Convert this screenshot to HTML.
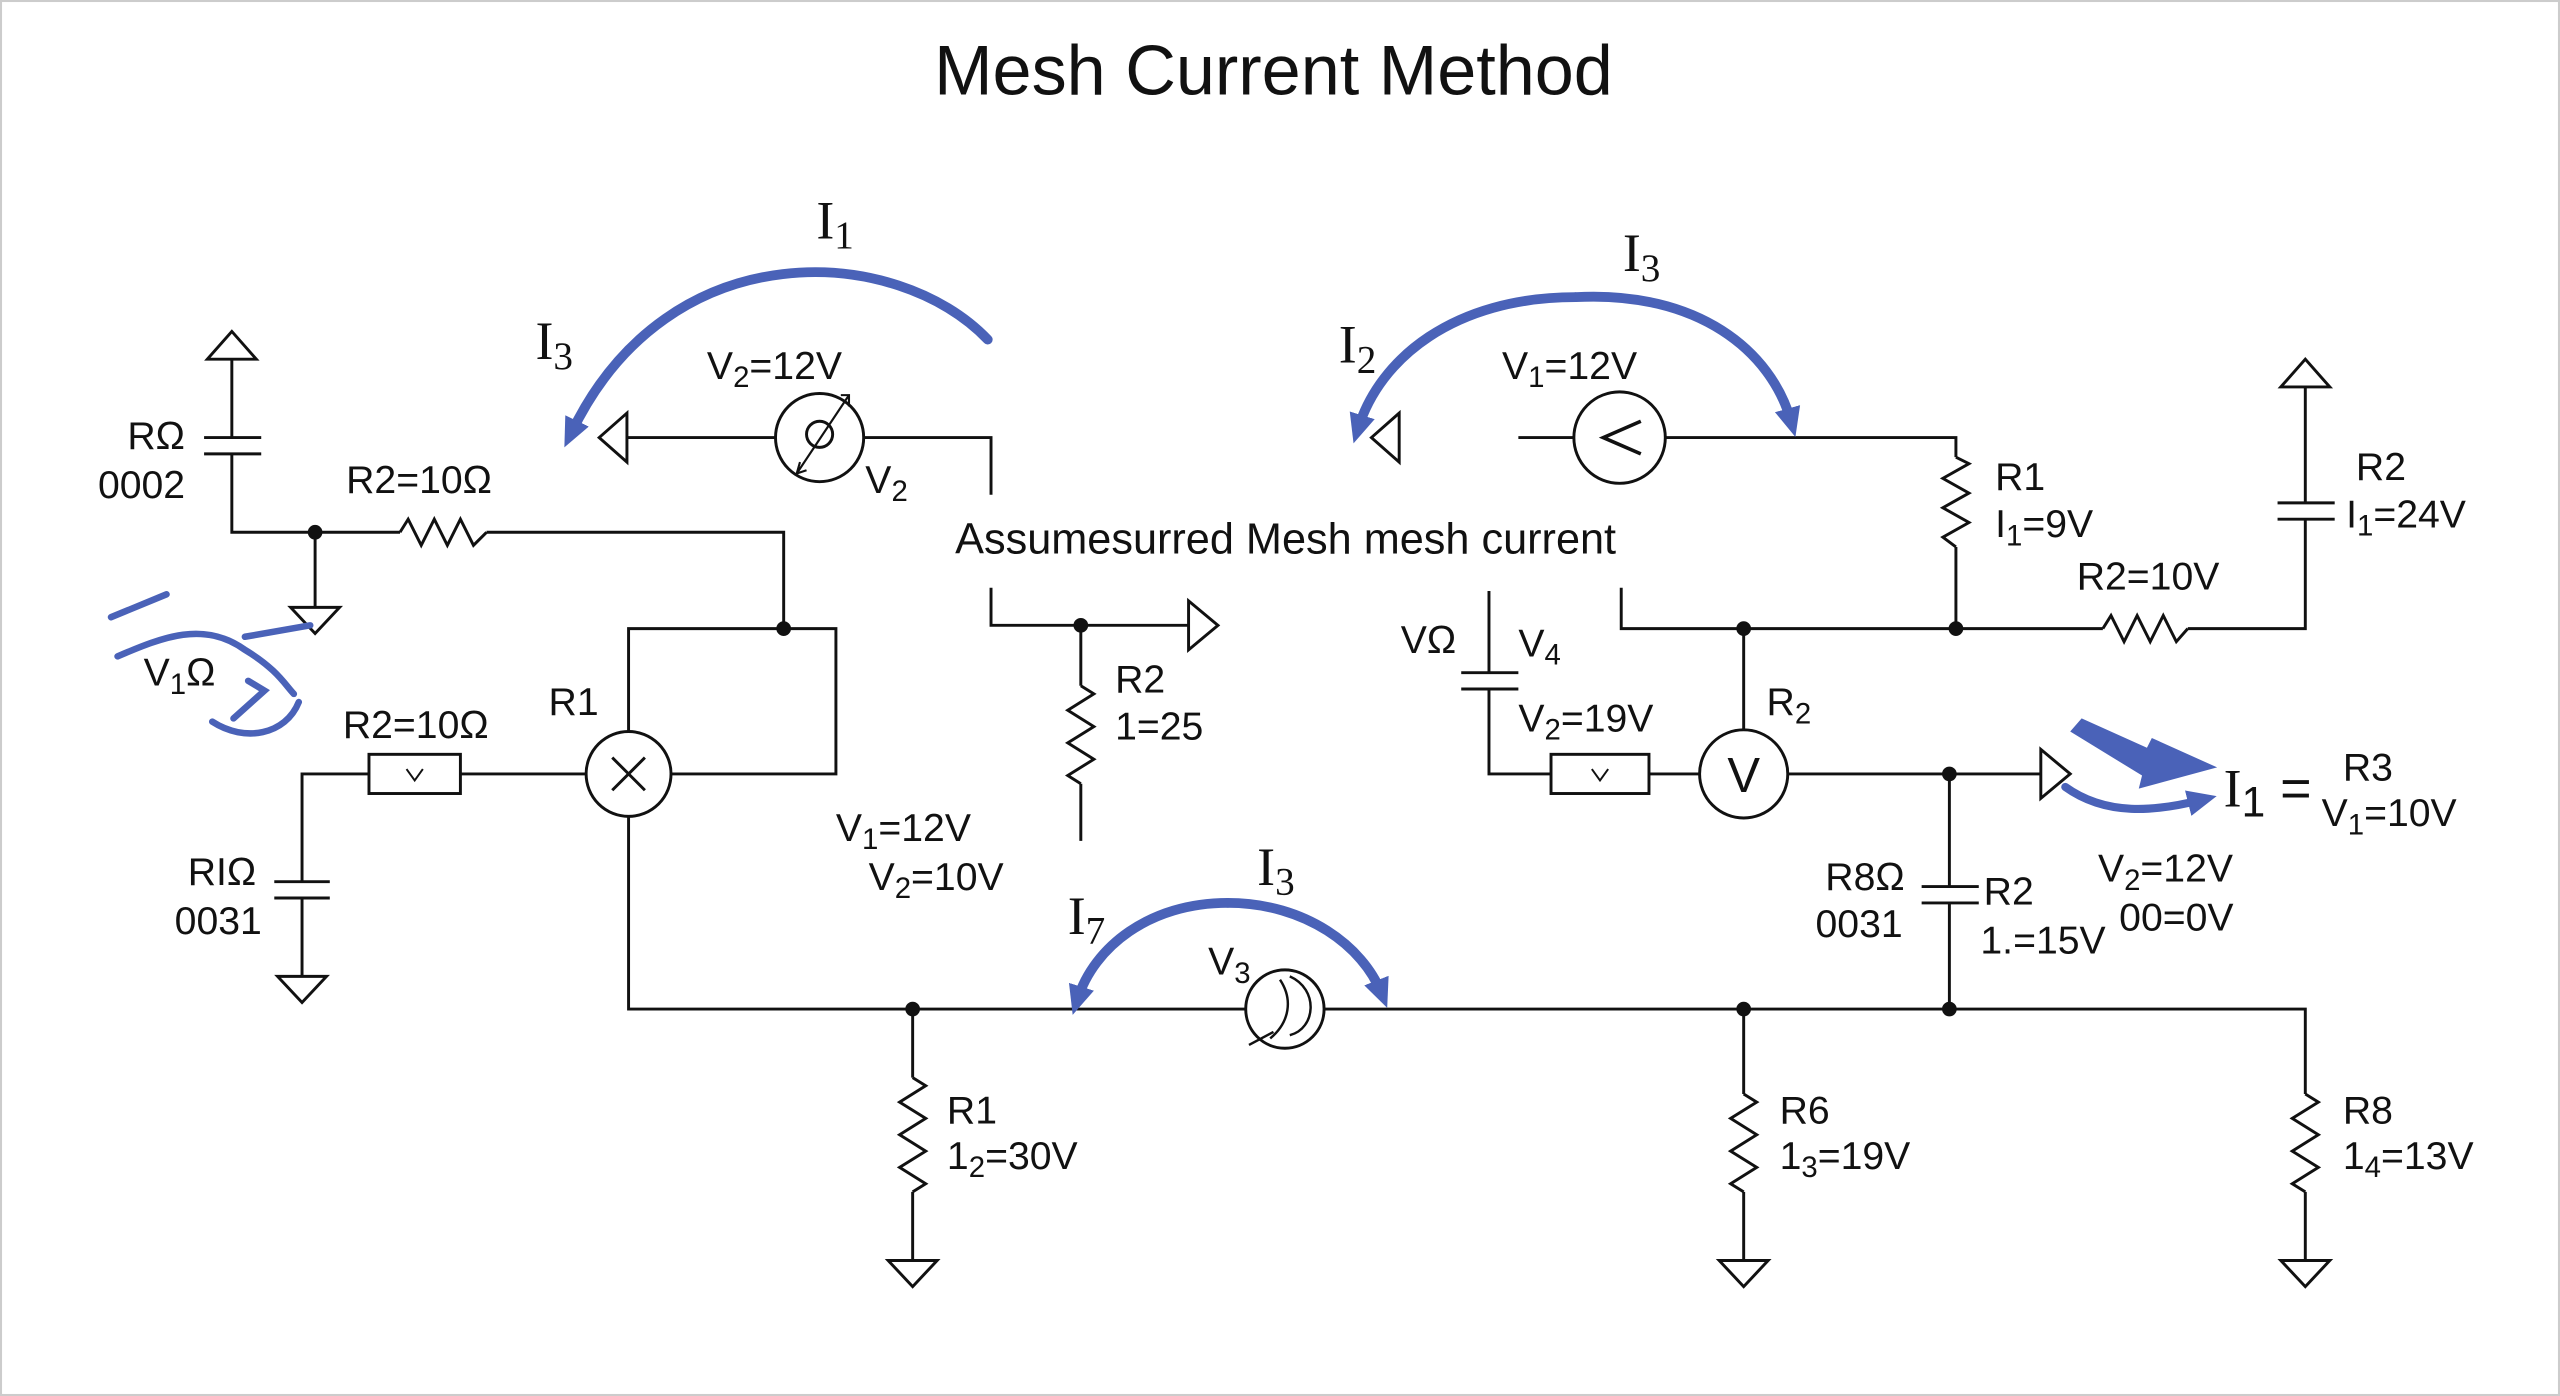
<!DOCTYPE html>
<html><head><meta charset="utf-8"><style>
html,body{margin:0;padding:0;background:#fff;}
svg{display:block;}
text{font-family:"Liberation Sans",sans-serif;fill:#111;}
.s{font-family:"Liberation Serif",serif;}
</style></head><body>
<svg width="2560" height="1396" viewBox="0 0 1568 855" preserveAspectRatio="none" xmlns="http://www.w3.org/2000/svg">
<rect x="0.5" y="0.5" width="1567" height="854" fill="#fff" stroke="#ccc" stroke-width="1.5"/>
<text x="780" y="58" font-size="43" text-anchor="middle">Mesh Current Method</text>
<defs>
<marker id="ah" markerWidth="20" markerHeight="20" refX="8" refY="10" orient="auto" markerUnits="userSpaceOnUse"><path d="M0,2 L18,10 L0,18 Z" fill="#4a62b8"/></marker>
</defs>
<g fill="none" stroke="#111" stroke-width="1.8">
<polygon points="127,220 157,220 142,203" fill="#fff"/>
<path d="M142,220 V268 M125,268 H160 M125,278 H160 M142,278 V326 H245 M298,326 H480 V385"/>
<polyline points="245,326 250,318 258,334 266,318 274,334 282,318 290,334 298,326"/>
<path d="M193,326 V372"/>
<polygon points="178,372 208,372 193,388" fill="#fff"/>
<path d="M385,448 V385 H512 V474 H411"/>
<circle cx="385" cy="474" r="26" fill="#fff"/>
<path d="M375,464 L395,484 M395,464 L375,484"/>
<path d="M185,540 V474 H226 M282,474 H359"/>
<rect x="226" y="462" width="56" height="24" fill="#fff"/>
<path d="M249,471 L254,478 L259,471" stroke-width="1.2"/>
<path d="M168,540 H202 M168,550 H202 M185,550 V598"/>
<polygon points="170,598 200,598 185,614" fill="#fff"/>
<path d="M385,500 V618 H763 M811,618 H1412 V670"/>
<path d="M559,618 V660 M559,730 V772"/>
<polyline points="559,660 567,665 551,675 567,685 551,695 567,705 551,715 567,725 559,730"/>
<polygon points="544,772 574,772 559,788" fill="#fff"/>
<path d="M1068,618 V670 M1068,730 V772"/>
<polyline points="1068,670 1076,675 1060,685 1076,695 1060,705 1076,715 1060,725 1068,730"/>
<polygon points="1053,772 1083,772 1068,788" fill="#fff"/>
<polyline points="1412,670 1420,675 1404,685 1420,695 1404,705 1420,715 1404,725 1412,730"/>
<path d="M1412,730 V772"/>
<polygon points="1397,772 1427,772 1412,788" fill="#fff"/>
<circle cx="787" cy="618" r="24" fill="#fff"/>
<path d="M790,598 C808,606 806,630 790,634 M784,600 C792,612 790,626 778,636 M765,640 L780,632" stroke-width="1.5"/>
<polygon points="384,253 384,283 367,268" fill="#fff"/>
<path d="M384,268 H475 M529,268 H607 V303"/>
<circle cx="502" cy="268" r="27" fill="#fff"/>
<circle cx="502" cy="266" r="8"/>
<path d="M488,290 L520,242 M515,242 L520,242 L520,249 M490,283 L488,290 L494,288" stroke-width="1.3"/>
<path d="M607,360 V383 H728 M662,383 V420 M662,480 V515"/>
<polygon points="728,368 728,398 746,383" fill="#fff"/>
<polyline points="662,420 670,425 654,435 670,445 654,455 670,465 654,475 662,480"/>
<polygon points="857,253 857,283 840,268" fill="#fff"/>
<path d="M930,268 H964 M1020,268 H1198 V280 M1198,335 V385"/>
<circle cx="992" cy="268" r="28" fill="#fff"/>
<path d="M1005,258 L982,268 L1005,278" stroke-width="2.2"/>
<polyline points="1198,280 1206,284 1190,293 1206,302 1190,311 1206,320 1190,329 1198,335"/>
<path d="M993,360 V385 H1288 M1340,385 H1412 V318 M1395,318 H1430 M1395,308 H1430 M1412,308 V237"/>
<polyline points="1288,385 1293,377 1301,393 1309,377 1317,393 1325,377 1333,393 1340,385"/>
<polygon points="1397,237 1427,237 1412,220" fill="#fff"/>
<path d="M1068,385 V447 M1095,474 H1250 M1194,474 V543 M1177,543 H1212 M1177,553 H1212 M1194,553 V618"/>
<circle cx="1068" cy="474" r="27" fill="#fff"/>
<polygon points="1250,459 1250,489 1268,474" fill="#fff"/>
<path d="M912,362 V412 M895,412 H930 M895,422 H930 M912,422 V474 H950 M1010,474 H1041"/>
<rect x="950" y="462" width="60" height="24" fill="#fff"/>
<path d="M975,471 L980,478 L985,471" stroke-width="1.2"/>
</g>
<g fill="#111">
<circle cx="193" cy="326" r="4.5"/><circle cx="480" cy="385" r="4.5"/>
<circle cx="662" cy="383" r="4.5"/><circle cx="1068" cy="385" r="4.5"/><circle cx="1198" cy="385" r="4.5"/>
<circle cx="1194" cy="474" r="4.5"/>
<circle cx="559" cy="618" r="4.5"/><circle cx="1068" cy="618" r="4.5"/><circle cx="1194" cy="618" r="4.5"/>
</g>
<text x="1068" y="485" font-size="30" text-anchor="middle">V</text>
<g fill="none" stroke="#4a62b8" stroke-width="6" stroke-linecap="round">
<path d="M605,208 C550,150 410,140 350,265" marker-end="url(#ah)"/>
<path d="M965,182 C1040,178 1085,215 1097,258" marker-end="url(#ah)"/>
<path d="M965,182 C890,182 845,220 832,262" marker-end="url(#ah)"/>
<path d="M752,553 C800,553 835,580 846,608" marker-end="url(#ah)"/>
<path d="M752,553 C704,553 670,580 660,612" marker-end="url(#ah)"/>
<path d="M1265,482 C1290,500 1320,497 1348,490" marker-end="url(#ah)" stroke-width="5"/>
<path d="M68,378 L102,364 M72,402 C100,390 125,380 150,398 C170,410 175,420 180,425 M190,383 L150,390 M152,417 L162,423 L143,440 M183,430 C175,450 150,455 130,442" stroke-width="4"/>
</g>
<polygon points="1268,448 1275,440 1315,458 1318,452 1358,470 1310,483 1312,475" fill="#4a62b8"/>
<g font-size="24">
<text x="78" y="275">RΩ</text><text x="60" y="305">0002</text>
<text x="212" y="302">R2=10Ω</text>
<text x="88" y="420">V<tspan font-size="18" dy="5">1</tspan><tspan dy="-5">Ω</tspan></text>
<text x="210" y="452">R2=10Ω</text>
<text x="336" y="438">R1</text>
<text x="115" y="542">RIΩ</text><text x="107" y="572">0031</text>
<text x="433" y="232">V<tspan font-size="18" dy="5">2</tspan><tspan dy="-5">=12V</tspan></text>
<text x="530" y="302">V<tspan font-size="18" dy="5">2</tspan></text>
<text x="585" y="339" font-size="26.5">Assumesurred Mesh mesh current</text>
<text x="683" y="424">R2</text><text x="683" y="453">1=25</text>
<text x="512" y="515">V<tspan font-size="18" dy="5">1</tspan><tspan dy="-5">=12V</tspan></text>
<text x="532" y="545">V<tspan font-size="18" dy="5">2</tspan><tspan dy="-5">=10V</tspan></text>
<text x="740" y="597">V<tspan font-size="18" dy="5">3</tspan></text>
<text x="580" y="688">R1</text><text x="580" y="716">1<tspan font-size="18" dy="5">2</tspan><tspan dy="-5">=30V</tspan></text>
<text x="1090" y="688">R6</text><text x="1090" y="716">1<tspan font-size="18" dy="5">3</tspan><tspan dy="-5">=19V</tspan></text>
<text x="1435" y="688">R8</text><text x="1435" y="716">1<tspan font-size="18" dy="5">4</tspan><tspan dy="-5">=13V</tspan></text>
<text x="920" y="232">V<tspan font-size="18" dy="5">1</tspan><tspan dy="-5">=12V</tspan></text>
<text x="1222" y="300">R1</text><text x="1222" y="329">I<tspan font-size="18" dy="5">1</tspan><tspan dy="-5">=9V</tspan></text>
<text x="1443" y="294">R2</text><text x="1437" y="323">I<tspan font-size="18" dy="5">1</tspan><tspan dy="-5">=24V</tspan></text>
<text x="1272" y="361">R2=10V</text>
<text x="858" y="400">VΩ</text><text x="930" y="402">V<tspan font-size="18" dy="5">4</tspan></text>
<text x="930" y="448">V<tspan font-size="18" dy="5">2</tspan><tspan dy="-5">=19V</tspan></text>
<text x="1082" y="438">R<tspan font-size="18" dy="5">2</tspan></text>
<text x="1118" y="545">R8Ω</text><text x="1112" y="574">0031</text>
<text x="1215" y="554">R2</text><text x="1213" y="584">1.=15V</text>
<text x="1285" y="540">V<tspan font-size="18" dy="5">2</tspan><tspan dy="-5">=12V</tspan></text>
<text x="1298" y="570">00=0V</text>
<text x="1435" y="478">R3</text>
<text x="1422" y="506">V<tspan font-size="18" dy="5">1</tspan><tspan dy="-5">=10V</tspan></text>
</g>
<g font-size="33" class="s">
<text class="s" x="500" y="146">I<tspan font-size="24" dy="6">1</tspan></text>
<text class="s" x="328" y="220">I<tspan font-size="24" dy="6">3</tspan></text>
<text class="s" x="994" y="166">I<tspan font-size="24" dy="6">3</tspan></text>
<text class="s" x="820" y="222">I<tspan font-size="24" dy="6">2</tspan></text>
<text class="s" x="770" y="542">I<tspan font-size="24" dy="6">3</tspan></text>
<text class="s" x="654" y="572">I<tspan font-size="24" dy="6">7</tspan></text>
<text class="s" x="1362" y="494">I<tspan font-size="26" dy="6" font-family="Liberation Sans">1</tspan><tspan dy="-6" font-family="Liberation Sans"> =</tspan></text>
</g>
</svg>
</body></html>
